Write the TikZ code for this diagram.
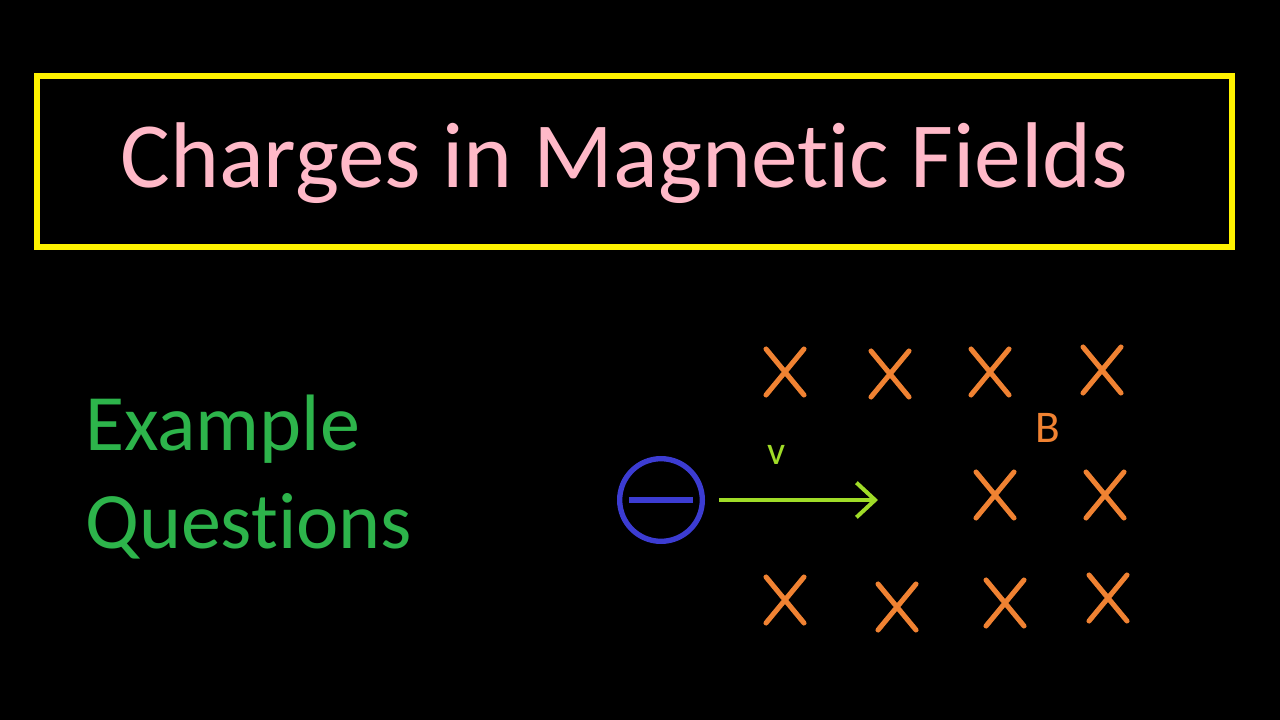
\documentclass[tikz,border=0pt]{standalone}
\usepackage{fontspec}
\usetikzlibrary{arrows.meta}
\setmainfont{Carlito}[Ligatures={NoCommon}]
\definecolor{pinkt}{RGB}{255,185,200}
\definecolor{greent}{RGB}{45,180,75}
\definecolor{bluec}{RGB}{60,60,210}
\definecolor{yg}{RGB}{160,220,40}
\definecolor{orx}{RGB}{240,130,50}
\begin{document}
\begin{tikzpicture}[x=0.75pt,y=-0.75pt,
  xmark/.style={orx,line width=3.8pt,line cap=round},
  lbl/.style={inner sep=0,anchor=base west}]
\useasboundingbox[fill=black] (0,0) rectangle (1280,720);
\draw[yellow,line width=4.5pt] (37,76) rectangle (1232,247);
\node[lbl,pinkt,font=\fontsize{70}{76}\selectfont] (t) at (120,188) {Charges in Magnetic Fields};
\node[lbl,greent,font=\fontsize{60}{66}\selectfont] (e1) at (85,450) {Example};
\node[lbl,greent,font=\fontsize{60}{66}\selectfont] (e2) at (85,548) {Questions};
\node[draw=bluec,line width=4pt,circle,minimum size=62pt,inner sep=0] (q) at (661,500) {};
\draw[bluec,line width=4pt] (629,500) -- (693,500);
\coordinate (tip) at (878,500);
\draw[yg,line width=3pt,-{Straight Barb[length=14pt,width=26pt]}] (q.east)++(14,0) -- (tip);
\node[yg,font=\fontsize{30}{30}\selectfont] (v) at (777,455) {v};
\node[orx,font=\fontsize{34}{34}\selectfont] (B) at (1048,428) {B};
\foreach \x/\y in {785/372,890/374,990/372,1102/370,995/495,1105/495,785/600,897/607,1005/603,1108/598}
  \draw[xmark] (\x-19,\y-23) -- (\x+19,\y+23) (\x+19,\y-23) -- (\x-19,\y+23);
\end{tikzpicture}
\end{document}
